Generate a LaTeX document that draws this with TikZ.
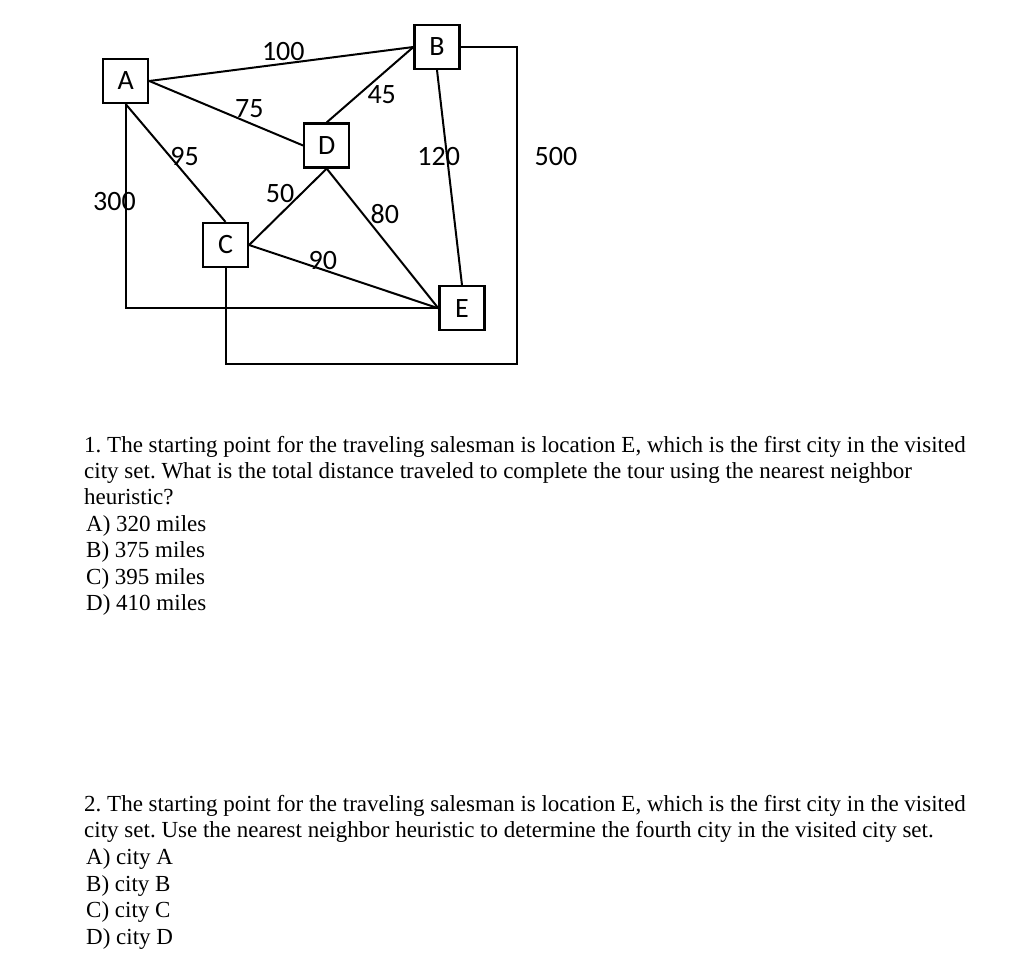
\documentclass[tikz,border=0pt]{standalone}
\usepackage{fontspec}
\setmainfont{Liberation Serif}
\newfontfamily\lblfont{Carlito}
\frenchspacing
\begin{document}
\begin{tikzpicture}[x=1pt,y=-1pt,
  city/.style={draw,line width=2.2pt,minimum width=45pt,minimum height=44pt,inner sep=0pt,font=\lblfont\fontsize{28}{30}\selectfont},
  edge/.style={line width=2pt},
  wlab/.style={inner sep=0pt,font=\lblfont\fontsize{28}{30}\selectfont},
  qline/.style={anchor=base west,inner sep=0pt,font=\frenchspacing\fontsize{23}{27}\selectfont}]
\useasboundingbox (0,0) rectangle (1024,963);
\fill[white] (0,0) rectangle (1024,963);
% cities
\node[city] (A) at (125.7,81) {A};
\node[city] (B) at (437,47) {B};
\node[city] (D) at (326.7,145.5) {D};
\node[city] (C) at (225.5,245) {C};
\node[city] (E) at (462,308.3) {E};
\coordinate (br) at (517.3,364);
% edges
\draw[edge] (A.east) -- (B.west);
\draw[edge] (A.east) -- (D.west);
\draw[edge] (B.west) -- (D.north);
\draw[edge] (A.south) -- (C.north);
\draw[edge] (A.south) |- (E.west);
\draw[edge] (D.south) -- (C.east);
\draw[edge] (D.south) -- (E.west);
\draw[edge] (C.east) -- (E.west);
\draw[edge] (B.south) -- (E.north);
\draw[edge] (B.east) -| (br) -| (C.south);
% weights
\node[wlab] (w100) at (283.3,51.3) {100};
\node[wlab] (w75) at (249.3,108.3) {75};
\node[wlab] (w45) at (381.7,95) {45};
\node[wlab] (w95) at (184.5,156.7) {95};
\node[wlab] (w120) at (438.7,156.7) {120};
\node[wlab] (w500) at (556,157) {500};
\node[wlab] (w300) at (114.5,201.7) {300};
\node[wlab] (w50) at (280,193.3) {50};
\node[wlab] (w80) at (384.8,214) {80};
\node[wlab] (w90) at (322.8,261) {90};
% question 1
\node[qline] (q1a) at (84,452.5) {1. The starting point for the traveling salesman is location E, which is the first city in the visited};
\node[qline] (q1b) at (84,478.5) {city set. What is the total distance traveled to complete the tour using the nearest neighbor};
\node[qline] (q1c) at (84,504.5) {heuristic?};
\node[qline] (q1d) at (86,531.5) {A) 320 miles};
\node[qline] (q1e) at (86,557.5) {B) 375 miles};
\node[qline] (q1f) at (86,584) {C) 395 miles};
\node[qline] (q1g) at (86,610.5) {D) 410 miles};
% question 2
\node[qline] (q2a) at (84,811) {2. The starting point for the traveling salesman is location E, which is the first city in the visited};
\node[qline] (q2b) at (84,837.5) {city set. Use the nearest neighbor heuristic to determine the fourth city in the visited city set.};
\node[qline] (q2c) at (86,864) {A) city A};
\node[qline] (q2d) at (86,891) {B) city B};
\node[qline] (q2e) at (86,917.5) {C) city C};
\node[qline] (q2f) at (86,944) {D) city D};
\end{tikzpicture}
\end{document}
